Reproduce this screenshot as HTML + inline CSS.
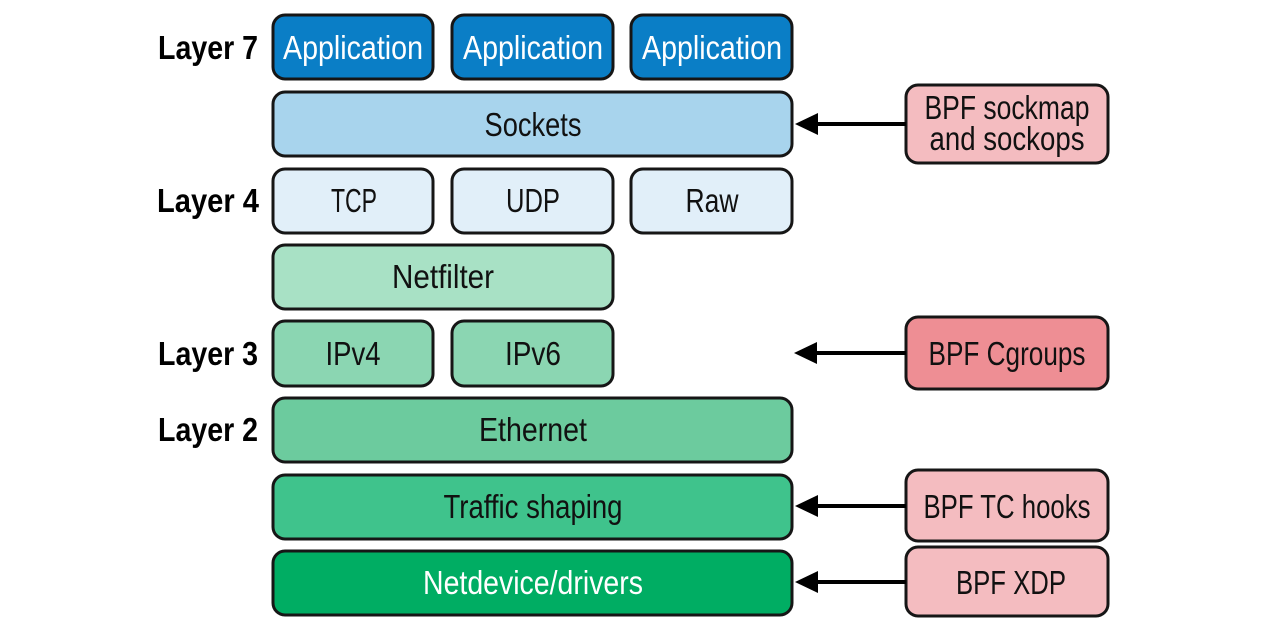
<!DOCTYPE html>
<html><head><meta charset="utf-8"><style>
html,body{margin:0;padding:0;background:#fff;}
svg{display:block}
text{font-family:"Liberation Sans",sans-serif;font-size:33px;text-anchor:middle;}
</style></head><body>
<svg width="1268" height="638" viewBox="0 0 1268 638" xmlns="http://www.w3.org/2000/svg">
<g stroke="#161616" stroke-width="3">
<rect x="273" y="15" width="160" height="64" rx="12" fill="#0a7ec6"/>
<rect x="452" y="15" width="161" height="64" rx="12" fill="#0a7ec6"/>
<rect x="631" y="15" width="161" height="64" rx="12" fill="#0a7ec6"/>
<rect x="273" y="92" width="519" height="64" rx="12" fill="#a8d4ed"/>
<rect x="273" y="169" width="160" height="64" rx="12" fill="#e1eff9"/>
<rect x="452" y="169" width="161" height="64" rx="12" fill="#e1eff9"/>
<rect x="631" y="169" width="161" height="64" rx="12" fill="#e1eff9"/>
<rect x="273" y="245" width="340" height="64" rx="12" fill="#a8e1c5"/>
<rect x="273" y="321" width="160" height="65" rx="12" fill="#8bd6b2"/>
<rect x="452" y="321" width="161" height="65" rx="12" fill="#8bd6b2"/>
<rect x="273" y="398" width="519" height="64" rx="12" fill="#6ccb9e"/>
<rect x="273" y="475" width="519" height="64" rx="12" fill="#3fc38c"/>
<rect x="273" y="551" width="519" height="64" rx="12" fill="#00ad63"/>
<rect x="906" y="85" width="202" height="78" rx="12" fill="#f4bcc0"/>
<rect x="906" y="317" width="202" height="72" rx="12" fill="#ee8e94"/>
<rect x="906" y="470" width="202" height="71" rx="12" fill="#f4bcc0"/>
<rect x="906" y="547" width="202" height="69" rx="12" fill="#f4bcc0"/>
</g>
<g stroke="#000" stroke-width="4">
<line x1="906" y1="124" x2="815" y2="124"/>
<line x1="906" y1="353" x2="815" y2="353"/>
<line x1="906" y1="506" x2="815" y2="506"/>
<line x1="906" y1="582" x2="815" y2="582"/>
</g>
<g fill="#000">
<polygon points="795,124 818,113 818,135"/>
<polygon points="794,353 817,342 817,364"/>
<polygon points="795,506 818,495 818,517"/>
<polygon points="795,582 818,571 818,593"/>
</g>
<g fill="#fff">
<text x="353" y="59" textLength="140" lengthAdjust="spacingAndGlyphs">Application</text>
<text x="533" y="59" textLength="140" lengthAdjust="spacingAndGlyphs">Application</text>
<text x="712" y="59" textLength="140" lengthAdjust="spacingAndGlyphs">Application</text>
<text x="533" y="594" textLength="220" lengthAdjust="spacingAndGlyphs">Netdevice/drivers</text>
</g>
<g fill="#111">
<text x="533" y="136" textLength="97" lengthAdjust="spacingAndGlyphs">Sockets</text>
<text x="354" y="212" textLength="46" lengthAdjust="spacingAndGlyphs">TCP</text>
<text x="533" y="212" textLength="54" lengthAdjust="spacingAndGlyphs">UDP</text>
<text x="712" y="212" textLength="53" lengthAdjust="spacingAndGlyphs">Raw</text>
<text x="443" y="288" textLength="102" lengthAdjust="spacingAndGlyphs">Netfilter</text>
<text x="353" y="365" textLength="55" lengthAdjust="spacingAndGlyphs">IPv4</text>
<text x="533" y="365" textLength="56" lengthAdjust="spacingAndGlyphs">IPv6</text>
<text x="533" y="441" textLength="108" lengthAdjust="spacingAndGlyphs">Ethernet</text>
<text x="533" y="518" textLength="179" lengthAdjust="spacingAndGlyphs">Traffic shaping</text>
<text x="1007" y="119" textLength="165" lengthAdjust="spacingAndGlyphs">BPF sockmap</text>
<text x="1007" y="150" textLength="155" lengthAdjust="spacingAndGlyphs">and sockops</text>
<text x="1007" y="365" textLength="157" lengthAdjust="spacingAndGlyphs">BPF Cgroups</text>
<text x="1007" y="518" textLength="167" lengthAdjust="spacingAndGlyphs">BPF TC hooks</text>
<text x="1011" y="594" textLength="110" lengthAdjust="spacingAndGlyphs">BPF XDP</text>
</g>
<g fill="#000">
<text x="208" y="59" textLength="100" lengthAdjust="spacingAndGlyphs" style="font-weight:bold">Layer 7</text>
<text x="208" y="212" textLength="102" lengthAdjust="spacingAndGlyphs" style="font-weight:bold">Layer 4</text>
<text x="208" y="365" textLength="100" lengthAdjust="spacingAndGlyphs" style="font-weight:bold">Layer 3</text>
<text x="208" y="441" textLength="100" lengthAdjust="spacingAndGlyphs" style="font-weight:bold">Layer 2</text>
</g>
</svg>
</body></html>
